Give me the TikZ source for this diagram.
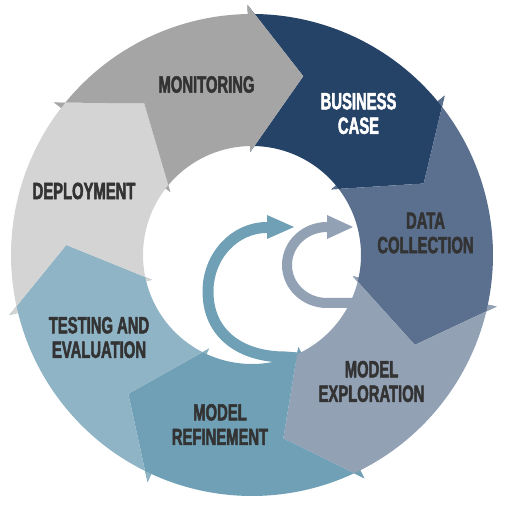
\documentclass[tikz,border=0pt]{standalone}
\usepackage{fontspec}
\newfontfamily\labelfont[FakeStretch=0.63,FakeBold=2]{Liberation Sans}
\usepackage{tikz}

\definecolor{monitorgray}{HTML}{A5A5A5}
\definecolor{casenavy}{HTML}{254267}
\definecolor{dataslate}{HTML}{5B708E}
\definecolor{exploregray}{HTML}{93A1B5}
\definecolor{refineteal}{HTML}{6FA0B5}
\definecolor{testblue}{HTML}{8FB4C5}
\definecolor{deploygray}{HTML}{D4D4D4}
\definecolor{labelgray}{HTML}{333333}

\tikzset{
  steplabel/.style={font=\labelfont\bfseries\fontsize{23.5}{24.5}\selectfont,
    text=labelgray, align=center, inner sep=0pt}
}

\begin{document}
\begin{tikzpicture}[x=1pt,y=1pt]
\useasboundingbox (-252,-255) rectangle (254,255);

\draw[refineteal, line width=11]
(60,-104) -- (33,-102) .. controls (-10,-102) and (-44,-80) .. (-44,-36.5)
arc[start angle=180, end angle=90, x radius=59, y radius=64] -- (17,27.5);
\fill[refineteal]
(15,40) -- (42,28) -- (15,16) -- cycle;

\draw[exploregray, line width=10]
(120,-48) -- (75,-48)
arc[start angle=270, end angle=90, x radius=40, y radius=38] -- (77,28);
\fill[exploregray]
(75,40) -- (101,28) -- (75,16) -- cycle;

\fill[casenavy]
(91:241) arc[start angle=91, end angle=39.6, radius=241]
-- (39.6:250) -- (22.6:186) -- (39.6:103) -- (39.6:109)
arc[start angle=39.6, end angle=91, radius=109]
-- (91:103) -- (74:186) -- (91:250) -- cycle;
\fill[dataslate]
(39.6:241) arc[start angle=39.6, end angle=-11.9, radius=241]
-- (-11.9:250) -- (-28.9:186) -- (-11.9:103) -- (-11.9:109)
arc[start angle=-11.9, end angle=39.6, radius=109]
-- (39.6:103) -- (22.6:186) -- (39.6:250) -- cycle;
\fill[exploregray]
(-11.9:241) arc[start angle=-11.9, end angle=-63.3, radius=241]
-- (-63.3:250) -- (-80.3:186) -- (-63.3:103) -- (-63.3:109)
arc[start angle=-63.3, end angle=-11.9, radius=109]
-- (-11.9:103) -- (-28.9:186) -- (-11.9:250) -- cycle;
\fill[refineteal]
(-63.3:241) arc[start angle=-63.3, end angle=-114.7, radius=241]
-- (-114.7:250) -- (-131.7:186) -- (-114.7:103) -- (-114.7:109)
arc[start angle=-114.7, end angle=-63.3, radius=109]
-- (-63.3:103) -- (-80.3:186) -- (-63.3:250) -- cycle;
\fill[testblue]
(-114.7:241) arc[start angle=-114.7, end angle=-166.1, radius=241]
-- (-166.1:250) -- (-183.1:186) -- (-166.1:103) -- (-166.1:109)
arc[start angle=-166.1, end angle=-114.7, radius=109]
-- (-114.7:103) -- (-131.7:186) -- (-114.7:250) -- cycle;
\fill[deploygray]
(193.9:241) arc[start angle=193.9, end angle=142.4, radius=241]
-- (142.4:250) -- (125.4:186) -- (142.4:103) -- (142.4:109)
arc[start angle=142.4, end angle=193.9, radius=109]
-- (193.9:103) -- (176.9:186) -- (193.9:250) -- cycle;
\fill[monitorgray]
(142.4:241) arc[start angle=142.4, end angle=91, radius=241]
-- (91:250) -- (74:186) -- (91:103) -- (91:109)
arc[start angle=91, end angle=142.4, radius=109]
-- (142.4:103) -- (125.4:186) -- (142.4:250) -- cycle;

\node[steplabel, text=white] (bizcase) at (106.5,141.5) {BUSINESS\\CASE};
\node[steplabel] (datacoll) at (173.5,22) {DATA\\COLLECTION};
\node[steplabel] (modelexp) at (119.5,-126.5) {MODEL\\EXPLORATION};
\node[steplabel] (modelref) at (-32,-169.5) {MODEL\\REFINEMENT};
\node[steplabel] (testeval) at (-153,-82.5) {TESTING AND\\EVALUATION};
\node[steplabel] (deploy) at (-168,64) {DEPLOYMENT};
\node[steplabel] (monitor) at (-45.5,170.5) {MONITORING};
\end{tikzpicture}
\end{document}
